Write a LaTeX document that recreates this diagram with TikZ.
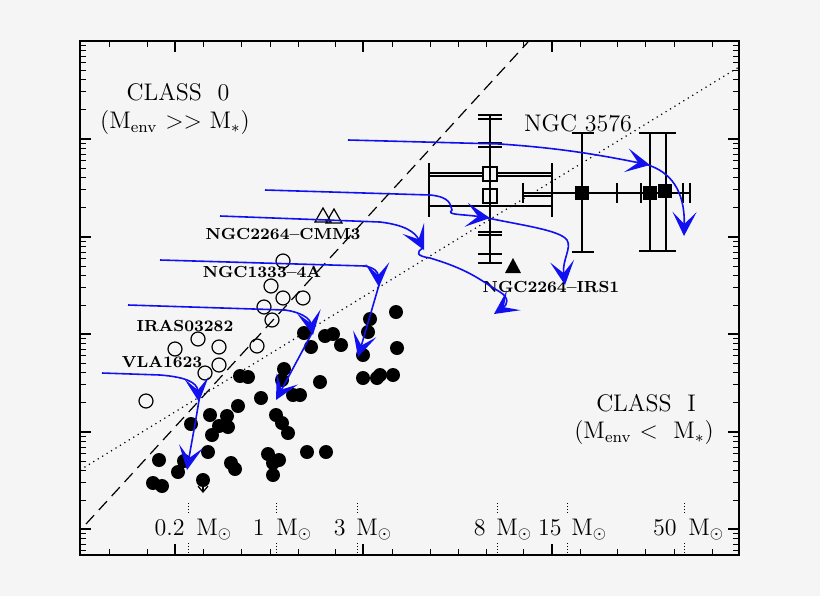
\documentclass[tikz,border=0pt]{standalone}
\usetikzlibrary{arrows.meta}
\definecolor{bg}{HTML}{F5F5F5}
\definecolor{trk}{HTML}{1010F0}
\tikzset{
  fc/.style={fill=black,circle,inner sep=0pt,minimum size=7pt},
  oc/.style={draw=black,circle,inner sep=0pt,minimum size=7pt,line width=0.6pt},
  track/.style={draw=trk,line width=0.8pt},
  tip/.style={-{Stealth[length=12pt,width=12pt,inset=6pt]}},
  lab/.style={font=\fontsize{12}{14}\selectfont,inner sep=0pt},
  slab/.style={font=\bfseries\fontsize{8}{9}\selectfont,inner sep=0pt},
  eb/.style={line width=0.7pt},
}
\begin{document}
\begin{tikzpicture}[x=0.5pt,y=-0.5pt]
\useasboundingbox[fill=bg] (0,0) rectangle (820,596);
% frame
\draw[line width=0.8pt] (80,41) rectangle (739,555);
% y ticks
\foreach \d in {41,139,237,334,432,529}{
  \draw[line width=0.6pt] (80,\d) -- ++(11,0);
  \draw[line width=0.6pt] (739,\d) -- ++(-11,0);
  \foreach \k in {2,...,9}{
    \pgfmathsetmacro\yy{\d+97.5-97.5*log10(\k)}
    \pgfmathparse{\yy<555?1:0}
    \ifnum\pgfmathresult=1
      \draw[line width=0.5pt] (80,\yy) -- ++(6,0);
      \draw[line width=0.5pt] (739,\yy) -- ++(-6,0);
    \fi
  }
}
% x ticks
\foreach \x in {175,363,552}{
  \draw[line width=0.6pt] (\x,555) -- ++(0,-11);
  \draw[line width=0.6pt] (\x,41) -- ++(0,11);
}
\foreach \x in {109,147,203,241,270,298,335,392,430,458,486,523,580,617,645,674,712}{
  \draw[line width=0.5pt] (\x,555) -- ++(0,-6);
  \draw[line width=0.5pt] (\x,41) -- ++(0,6);
}
% diagonal lines
\draw[line width=0.6pt,dash pattern=on 6pt off 3.5pt] (86,524) -- (528,42);
\draw[dotted,line width=0.6pt] (80,470) -- (739,67);
% mass markers
\foreach \x in {188,276,357,497,567,684}{
  \draw[densely dotted,line width=0.5pt] (\x,503) -- (\x,514);
  \draw[densely dotted,line width=0.5pt] (\x,543) -- (\x,555);
}
\node[lab,anchor=base east] (m1) at (185,535) {0.2};
\node[lab,anchor=base west] (m1b) at (196,535) {M$_\odot$};
\node[lab,anchor=base east] (m2) at (265,535) {1};
\node[lab,anchor=base west] (m2b) at (276,535) {M$_\odot$};
\node[lab,anchor=base east] (m3) at (346,535) {3};
\node[lab,anchor=base west] (m3b) at (356,535) {M$_\odot$};
\node[lab,anchor=base east] (m4) at (486,535) {8};
\node[lab,anchor=base west] (m4b) at (496,535) {M$_\odot$};
\node[lab,anchor=base east] (m5) at (562,535) {15};
\node[lab,anchor=base west] (m5b) at (571,535) {M$_\odot$};
\node[lab,anchor=base east] (m6) at (677,535) {50};
\node[lab,anchor=base west] (m6b) at (688,535) {M$_\odot$};
% class labels
\node[lab] (c0) at (178,92) {CLASS\ \ 0};
\node[lab] (c0b) at (175,123) {(M$_\mathrm{env}$ $>>$ M$_*$)};
\node[lab] (c1) at (646,403) {CLASS\ \ I};
\node[lab] (c1b) at (644,433) {(M$_\mathrm{env}$ $<$ \ M$_*$)};
\node[lab] (ngc) at (578,123) {NGC\ 3576};
% small labels
\node[slab] (l1) at (283,234) {NGC2264--CMM3};
\node[slab] (l2) at (262,272) {NGC1333--4A};
\node[slab] (l3) at (185,326) {IRAS03282};
\node[slab] (l4) at (162,362) {VLA1623};
\node[slab] (l5) at (551,287) {NGC2264--IRS1};
% open circles
\foreach \p in {(283,261),(271,286),(283,298),(303,298),(264,307),(272,320),(257,346),(175,349),(198,339),(219,347),(219,365),(205,373),(146,401)}
  \node[oc] at \p {};
% filled circles
\foreach \p in {(396,312),(370,319),(368,332),(304,333),(325,336),(333,334),(341,345),(311,347),(397,348),(363,355),(284,369),(240,376),(248,377),(282,380),(320,382),(363,378),(377,378),(380,375),(393,375),(293,395),(300,395),(261,398),(238,406),(210,415),(227,416),(276,415),(191,424),(219,426),(228,427),(282,423),(212,435),(288,433),(208,452),(307,452),(326,452),(159,460),(184,461),(268,454),(231,463),(235,469),(279,460),(273,463),(178,472),(273,475),(153,483),(162,486),(203,480)}
  \node[fc] at \p {};
\draw[line width=0.6pt,-{Straight Barb[length=3pt,width=5pt]}] (203,483) -- (203,493);
% triangles
\draw[line width=0.6pt] (315,222) -- (323,208) -- (331,222) -- cycle;
\draw[line width=0.6pt] (326,223) -- (334,209) -- (342,223) -- cycle;
\fill (505,273) -- (513,258) -- (521,273) -- cycle;
% open square error bars
\draw[eb] (490,115) -- (490,263);
\foreach \y in {115,119,143,147,232,235,254,263} \draw[eb] (478,\y) -- (502,\y);
\draw[eb] (429,173) -- (552,173);
\draw[eb] (429,176) -- (552,176);
\draw[eb] (523,196) -- (552,196);
\draw[eb] (429,206) -- (552,206);
\draw[eb] (429,163) -- (429,217);
\draw[eb] (552,163) -- (552,217);
\draw[eb] (523,183) -- (523,203);
\draw[eb,fill=bg] (483,167) rectangle (497,181);
\draw[eb,fill=bg] (483,189) rectangle (497,203);
\draw[eb] (490,167) -- (490,203);
% filled square error bars
\draw[eb] (523,193) -- (690,193);
\foreach \x in {617,641,683,690} \draw[eb] (\x,183) -- (\x,203);
\draw[eb] (582,133) -- (582,252);
\draw[eb] (572,133) -- (594,133); \draw[eb] (572,252) -- (594,252);
\draw[eb] (650,133) -- (650,251);
\draw[eb] (666,133) -- (666,251);
\draw[eb] (639,133) -- (676,133); \draw[eb] (639,251) -- (676,251);
\fill (575,186) rectangle (589,200);
\fill (643,186) rectangle (657,200);
\fill (658,184) rectangle (672,198);
% tracks
\draw[track,tip] (102,373) -- (160,375) .. controls (185,377) and (197,382) .. (199,402);
\draw[track,tip] (199,400) .. controls (196,420) and (192,440) .. (187,470);
\draw[track,tip] (128,305) -- (285,310) .. controls (300,312) and (310,318) .. (313,335);
\draw[track,tip] (312,333) -- (276,400);
\draw[track,tip] (160,260) -- (365,266) .. controls (375,268) and (378,272) .. (379,287);
\draw[track,tip] (379,285) -- (358,357);
\draw[track,tip] (220,216) -- (380,222) .. controls (405,225) and (415,232) .. (424,250);
\draw[track,tip] (423,248) .. controls (416,252) and (416,256) .. (430,258) .. controls (470,270) and (480,280) .. (500,292) .. controls (510,298) and (507,305) .. (494,314);
\draw[track,tip] (265,190) -- (430,195) .. controls (452,197) and (450,206) .. (452,210) .. controls (446,215) and (460,214) .. (490,218);
\draw[track,tip] (488,218) .. controls (520,225) and (560,230) .. (567,240) .. controls (572,248) and (562,260) .. (565,285);
\draw[track,tip] (348,140) -- (500,144) .. controls (560,148) and (600,155) .. (650,165);
\draw[track,tip] (648,165) .. controls (670,172) and (685,190) .. (684,236);
\end{tikzpicture}
\end{document}
